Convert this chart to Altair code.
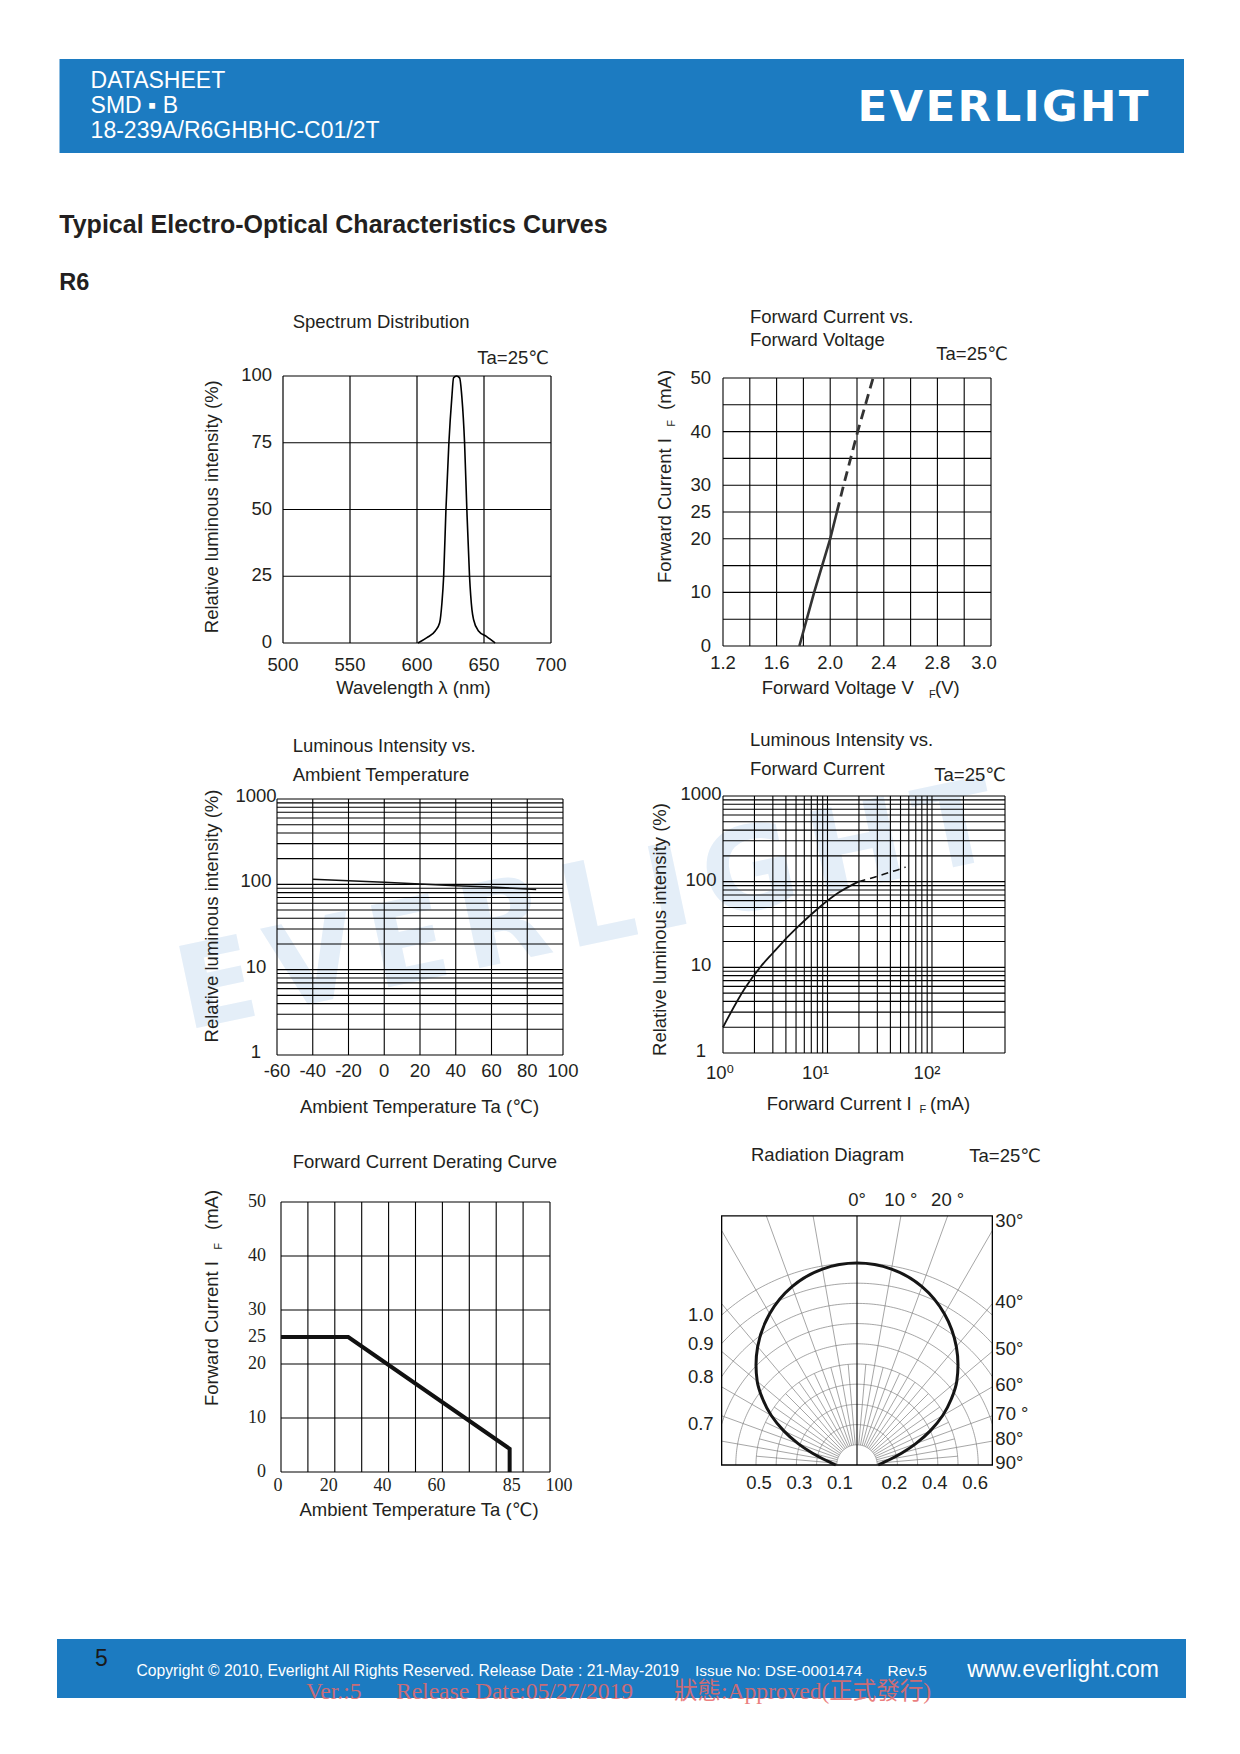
import math
import altair as alt
import pandas as pd

W, H = 1224, 1738
SANS = "Liberation Sans, Arial, DejaVu Sans, sans-serif"
SERIF = "Liberation Serif, Times New Roman, DejaVu Serif, serif"
LOGO = "DejaVu Sans, Liberation Sans, sans-serif"
INK = "#231f20"
BLUE = "#1c7bc1"
ONE = pd.DataFrame({"k": [0]})

# ---------------- values read from the page ----------------
# Spectrum distribution
SPEC_WL = [600.7, 607.4, 613.6, 616.9, 618.6, 619.9, 621.6, 623.8, 626.0, 627.3, 629.5,
           631.8, 633.5, 635.5, 637.2, 639.2, 641.0, 642.2, 645.9, 652.0, 658.3]
SPEC_REL = [0, 2.0, 4.5, 7.6, 15, 25, 50, 75, 92, 99.3, 100,
            99.3, 92, 75, 50, 25, 12.5, 8.8, 4.5, 2.4, 0]
SPEC_X_TICKS = [500, 550, 600, 650, 700]
SPEC_Y_TICKS = [0, 25, 50, 75, 100]

# Forward current vs forward voltage
FV_V_SOLID = [1.77, 1.88, 2.00, 2.05]
FV_I_SOLID = [0, 10, 20, 25]
FV_V_DASH = [2.05, 2.10, 2.205, 2.32]
FV_I_DASH = [25, 30, 40, 50]
FV_X_TICKS = [1.2, 1.6, 2.0, 2.4, 2.8]
FV_X_TEXT = ["1.2", "1.6", "2.0", "2.4", "2.8"]
FV_X_LAST_TICK = [3.2]
FV_X_LAST_TEXT = ["3.0"]
FV_Y_TICKS = [0, 10, 20, 25, 30, 40, 50]
FV_GRID_X = [1.2, 1.4, 1.6, 1.8, 2.0, 2.2, 2.4, 2.6, 2.8, 3.0, 3.2]
FV_GRID_Y = [0, 5, 10, 15, 20, 25, 30, 35, 40, 45, 50]

# Luminous intensity vs ambient temperature
TA_C = [-40, 0, 20, 40, 60, 85]
TA_REL = [115, 106, 101, 96, 93, 87]
TA_X_TICKS = [-60, -40, -20, 0, 20, 40, 60, 80, 100]
LOG_Y_TICKS = [1, 10, 100, 1000]
LOG_GRID_Y = [1, 2, 3, 4, 5, 6, 7, 8, 9, 10, 20, 30, 40, 50, 60, 70, 80, 90,
              100, 200, 300, 400, 500, 600, 700, 800, 900, 1000]

# Luminous intensity vs forward current
IF_MA = [1, 1.62, 2.31, 3.03, 3.77, 5.26, 7.86, 12.7, 19.8]
IF_REL = [2.0, 5.7, 10.3, 14.9, 20, 30, 47, 74, 100]
IF_MA_DASH = [19.8, 29.6, 38.9, 47.5, 56]
IF_REL_DASH = [100, 115, 128, 138, 148]
IF_X_TICKS = [1, 10, 100]
IF_X_TEXT = ["10⁰", "10¹", "10²"]
IF_GRID_X = [1, 2, 3, 4, 5, 6, 7, 8, 9, 10, 20, 30, 40, 50, 60, 70, 80, 90, 100, 200, 500]

# Forward current derating curve
DER_TA = [0, 25, 85, 85]
DER_IF = [25, 25, 4.3, 0]
DER_X_TICKS = [0, 20, 40, 60, 85, 100]
DER_Y_TICKS = [0, 10, 20, 25, 30, 40, 50]
DER_GRID_X = [0, 10, 20, 30, 40, 50, 60, 70, 80, 90, 100]
DER_GRID_Y = [0, 10, 20, 30, 40, 50]

# Radiation diagram
RAD_DEG = [-90, -85, -80, -75, -70, -65, -60, -55, -50, -40, -30, -20, -10, 0,
           10, 20, 30, 40, 50, 55, 60, 65, 70, 75, 80, 85, 90]
RAD_REL = [0.105, 0.13, 0.17, 0.23, 0.31, 0.40, 0.49, 0.57, 0.645, 0.765, 0.865, 0.94, 0.985, 1.0,
           0.985, 0.94, 0.865, 0.765, 0.645, 0.57, 0.49, 0.40, 0.31, 0.23, 0.17, 0.13, 0.105]
RAD_ARC_R = [0.1, 0.2, 0.3, 0.4, 0.5, 0.6, 0.7, 0.8, 0.9, 1.0]
RAD_SPOKE_DEG = [-80, -70, -60, -50, -40, -30, -20, -10, 10, 20, 30, 40, 50, 60, 70, 80]
RAD_FAN_DEG = [-85, -75, -65, -55, -45, -35, -25, -15, -5, 5, 15, 25, 35, 45, 55, 65, 75, 85]
RAD_LEFT_R = [1.0, 0.9, 0.8, 0.7]
RAD_BOTTOM_R = [0.5, 0.3, 0.1, 0.2, 0.4, 0.6]
RAD_BOTTOM_SIDE = [-1, -1, -1, 1, 1, 1]
RAD_ANG_TICKS = [0, 10, 20, 30, 40, 50, 60, 70, 80, 90]
RAD_ANG_TEXT = ["0°", "10 °", "20 °", "30°", "40°", "50°", "60°", "70 °", "80°", "90°"]
RAD_XMAX = 0.67
RAD_YMAX = 1.233

# advance widths (em) of DejaVu Sans Bold capitals, used to space the logotype
LOGO_ADV = {"E": 0.683, "V": 0.774, "R": 0.770, "L": 0.637, "I": 0.372,
            "G": 0.821, "H": 0.837, "T": 0.682}


# ---------------- helpers ----------------
def vrules(vals, lo, hi, xs, ys, width=1.1, color="black"):
    df = pd.DataFrame({"v": vals, "lo": [lo] * len(vals), "hi": [hi] * len(vals)})
    return alt.Chart(df).mark_rule(color=color, strokeWidth=width).encode(
        x=alt.X("v:Q", scale=xs, axis=None),
        y=alt.Y("lo:Q", scale=ys, axis=None),
        y2=alt.Y2("hi:Q"))


def hrules(vals, lo, hi, xs, ys, width=1.1, color="black"):
    df = pd.DataFrame({"v": vals, "lo": [lo] * len(vals), "hi": [hi] * len(vals)})
    return alt.Chart(df).mark_rule(color=color, strokeWidth=width).encode(
        y=alt.Y("v:Q", scale=ys, axis=None),
        x=alt.X("lo:Q", scale=xs, axis=None),
        x2=alt.X2("hi:Q"))


def xlabels(vals, texts, lo, xs, ys, dy, dx=0, font=SANS, size=18.5):
    df = pd.DataFrame({"v": vals, "s": texts, "lo": [lo] * len(vals)})
    return alt.Chart(df).mark_text(
        align="center", baseline="middle", dx=dx, dy=dy, fontSize=size, font=font, color=INK
    ).encode(x=alt.X("v:Q", scale=xs, axis=None),
             y=alt.Y("lo:Q", scale=ys, axis=None),
             text="s:N")


def ylabels(vals, texts, lo, xs, ys, dx, dy=0, align="right", font=SANS, size=18.5):
    df = pd.DataFrame({"v": vals, "s": texts, "lo": [lo] * len(vals)})
    return alt.Chart(df).mark_text(
        align=align, baseline="middle", dx=dx, dy=dy, fontSize=size, font=font, color=INK
    ).encode(y=alt.Y("v:Q", scale=ys, axis=None),
             x=alt.X("lo:Q", scale=xs, axis=None),
             text="s:N")


def txt(s, x, y, size=18.5, align="left", angle=0, color=INK, font=SANS,
        weight="normal", opacity=1.0, baseline="middle"):
    return alt.Chart(ONE).mark_text(
        text=s, align=align, baseline=baseline, angle=angle, fontSize=size,
        font=font, fontWeight=weight, color=color, opacity=opacity
    ).encode(x=alt.value(x), y=alt.value(y))


def box(x0, x1, y0, y1, color):
    return alt.Chart(ONE).mark_rect(color=color).encode(
        x=alt.value(x0), x2=alt.value(x1), y=alt.value(y0), y2=alt.value(y1))


def spaced_word(word, size, x0, y0, total, angle_deg, color):
    adv = [LOGO_ADV[c] * size for c in word]
    gap = (total - sum(adv)) / (len(word) - 1)
    a = math.radians(angle_deg)
    out, pos = [], 0.0
    for c, w in zip(word, adv):
        cx = pos + w / 2
        out.append(txt(c, x0 + cx * math.cos(a), y0 - cx * math.sin(a), size,
                       align="center", angle=(360 - angle_deg) % 360, color=color,
                       font=LOGO, weight="bold"))
        pos += w + gap
    return out


def strs(vals):
    return [str(v) for v in vals]


# ---------------- panel 1: spectrum ----------------
x1 = alt.Scale(domain=[500, 700], range=[275, 543])
y1 = alt.Scale(domain=[0, 100], range=[635, 368])
df_spec = pd.DataFrame({"wl": SPEC_WL, "rel": SPEC_REL})
p1 = alt.layer(
    vrules(SPEC_X_TICKS, 0, 100, x1, y1, 1.2),
    hrules(SPEC_Y_TICKS, 500, 700, x1, y1, 1.2),
    alt.Chart(df_spec).mark_line(color="black", strokeWidth=1.6, interpolate="monotone").encode(
        x=alt.X("wl:Q", scale=x1, axis=None),
        y=alt.Y("rel:Q", scale=y1, axis=None)),
    xlabels(SPEC_X_TICKS, strs(SPEC_X_TICKS), 0, x1, y1, dy=22),
    ylabels(SPEC_Y_TICKS, strs(SPEC_Y_TICKS), 500, x1, y1, dx=-11, dy=-1),
)

# ---------------- panel 2: IF vs VF ----------------
x2 = alt.Scale(domain=[1.2, 3.2], range=[715, 983])
y2 = alt.Scale(domain=[0, 50], range=[638, 370])
df_fv_s = pd.DataFrame({"v": FV_V_SOLID, "i": FV_I_SOLID})
df_fv_d = pd.DataFrame({"v": FV_V_DASH, "i": FV_I_DASH})
p2 = alt.layer(
    vrules(FV_GRID_X, 0, 50, x2, y2),
    hrules(FV_GRID_Y, 1.2, 3.2, x2, y2),
    alt.Chart(df_fv_s).mark_line(color="#333333", strokeWidth=2.6).encode(
        x=alt.X("v:Q", scale=x2, axis=None),
        y=alt.Y("i:Q", scale=y2, axis=None)),
    alt.Chart(df_fv_d).mark_line(color="#333333", strokeWidth=2.8, strokeDash=[10, 6]).encode(
        x=alt.X("v:Q", scale=x2, axis=None),
        y=alt.Y("i:Q", scale=y2, axis=None)),
    xlabels(FV_X_TICKS, FV_X_TEXT, 0, x2, y2, dy=17),
    xlabels(FV_X_LAST_TICK, FV_X_LAST_TEXT, 0, x2, y2, dy=17, dx=-7),
    ylabels(FV_Y_TICKS, strs(FV_Y_TICKS), 1.2, x2, y2, dx=-12),
)

# ---------------- panel 3: IV vs Ta ----------------
x3 = alt.Scale(domain=[-60, 100], range=[269, 555])
y3 = alt.Scale(type="log", domain=[1, 1000], range=[1047, 791])
df_ta = pd.DataFrame({"t": TA_C, "l": TA_REL})
p3 = alt.layer(
    vrules(TA_X_TICKS, 1, 1000, x3, y3),
    hrules(LOG_GRID_Y, -60, 100, x3, y3),
    alt.Chart(df_ta).mark_line(color="#111111", strokeWidth=1.5).encode(
        x=alt.X("t:Q", scale=x3, axis=None),
        y=alt.Y("l:Q", scale=y3, axis=None)),
    xlabels(TA_X_TICKS, strs(TA_X_TICKS), 1, x3, y3, dy=16),
    ylabels(LOG_Y_TICKS, strs(LOG_Y_TICKS), -60, x3, y3, dx=-21, dy=-3, align="center"),
)

# ---------------- panel 4: IV vs IF ----------------
x4 = alt.Scale(type="log", domain=[1, 500], range=[715, 997])
y4 = alt.Scale(type="log", domain=[1, 1000], range=[1045, 788])
df_if_s = pd.DataFrame({"i": IF_MA, "l": IF_REL})
df_if_d = pd.DataFrame({"i": IF_MA_DASH, "l": IF_REL_DASH})
p4 = alt.layer(
    vrules(IF_GRID_X, 1, 1000, x4, y4),
    hrules(LOG_GRID_Y, 1, 500, x4, y4),
    alt.Chart(df_if_s).mark_line(color="#111111", strokeWidth=1.8, interpolate="monotone").encode(
        x=alt.X("i:Q", scale=x4, axis=None),
        y=alt.Y("l:Q", scale=y4, axis=None)),
    alt.Chart(df_if_d).mark_line(color="#111111", strokeWidth=1.5, strokeDash=[7, 5],
                                 interpolate="monotone").encode(
        x=alt.X("i:Q", scale=x4, axis=None),
        y=alt.Y("l:Q", scale=y4, axis=None)),
    xlabels(IF_X_TICKS[:1], IF_X_TEXT[:1], 1, x4, y4, dy=20, dx=-3),
    xlabels(IF_X_TICKS[1:2], IF_X_TEXT[1:2], 1, x4, y4, dy=20, dx=-12),
    xlabels(IF_X_TICKS[2:], IF_X_TEXT[2:], 1, x4, y4, dy=20, dx=-5),
    ylabels(LOG_Y_TICKS, strs(LOG_Y_TICKS), 1, x4, y4, dx=-22, dy=-2, align="center"),
)

# ---------------- panel 5: derating ----------------
x5 = alt.Scale(domain=[0, 100], range=[273, 542])
y5 = alt.Scale(domain=[0, 50], range=[1464, 1194])
df_der = pd.DataFrame({"t": DER_TA, "i": DER_IF, "o": list(range(len(DER_TA)))})
p5 = alt.layer(
    vrules(DER_GRID_X, 0, 50, x5, y5),
    hrules(DER_GRID_Y, 0, 100, x5, y5),
    alt.Chart(df_der).mark_line(color="#111111", strokeWidth=4, strokeJoin="miter").encode(
        x=alt.X("t:Q", scale=x5, axis=None),
        y=alt.Y("i:Q", scale=y5, axis=None),
        order="o:Q"),
    xlabels(DER_X_TICKS[:1], strs(DER_X_TICKS[:1]), 0, x5, y5, dy=14, dx=-3, font=SERIF, size=18),
    xlabels(DER_X_TICKS[1:4], strs(DER_X_TICKS[1:4]), 0, x5, y5, dy=14, dx=-6, font=SERIF, size=18),
    xlabels(DER_X_TICKS[4:5], strs(DER_X_TICKS[4:5]), 0, x5, y5, dy=14, dx=2, font=SERIF, size=18),
    xlabels(DER_X_TICKS[5:], strs(DER_X_TICKS[5:]), 0, x5, y5, dy=14, dx=9, font=SERIF, size=18),
    ylabels(DER_Y_TICKS, strs(DER_Y_TICKS), 0, x5, y5, dx=-15, font=SERIF, size=18),
)

# ---------------- panel 6: radiation diagram ----------------
PX = 202.0
OX, OY = 849.0, 1457.0
x6 = alt.Scale(domain=[-RAD_XMAX, RAD_XMAX], range=[OX - RAD_XMAX * PX, OX + RAD_XMAX * PX])
y6 = alt.Scale(domain=[0, RAD_YMAX], range=[OY, OY - RAD_YMAX * PX])

arc_rows = []
for r in RAD_ARC_R:
    amax = 90.0 if r <= RAD_XMAX else math.degrees(math.asin(RAD_XMAX / r))
    angs = [-amax] + [a for a in range(-89, 90) if abs(a) < amax] + [amax]
    for a in angs:
        arc_rows.append({"r": r, "a": a})
df_arcs = pd.DataFrame(arc_rows)

spoke_rows = []
for a in RAD_SPOKE_DEG:
    t = math.radians(a)
    r1 = min(RAD_YMAX / math.cos(t), RAD_XMAX / abs(math.sin(t)))
    spoke_rows.append({"a": a, "r0": 0.1, "r1": r1})
for a in RAD_FAN_DEG:
    spoke_rows.append({"a": a, "r0": 0.1, "r1": 0.5})
df_spokes = pd.DataFrame(spoke_rows)

df_frame = pd.DataFrame({"xl": [-RAD_XMAX], "xr": [RAD_XMAX], "yb": [0], "yt": [RAD_YMAX]})
df_center = pd.DataFrame({"x": [0], "yb": [0], "yt": [RAD_YMAX]})
df_rad = pd.DataFrame({"deg": RAD_DEG, "rel": RAD_REL})
df_left = pd.DataFrame({"r": RAD_LEFT_R, "s": [f"{v:.1f}" for v in RAD_LEFT_R]})
df_bottom = pd.DataFrame({"r": RAD_BOTTOM_R, "side": RAD_BOTTOM_SIDE,
                          "s": [f"{v:.1f}" for v in RAD_BOTTOM_R]})
df_ang = pd.DataFrame({"a": RAD_ANG_TICKS, "s": RAD_ANG_TEXT})

GRAY = "#808080"
ang_base = alt.Chart(df_ang).transform_calculate(
    t="tan(datum.a * PI / 180)"
).transform_calculate(
    top=f"{RAD_YMAX} * datum.t <= {RAD_XMAX}"
).transform_calculate(
    px=f"datum.top ? {RAD_YMAX} * datum.t : {RAD_XMAX}",
    py=f"datum.top ? {RAD_YMAX} : {RAD_XMAX} / datum.t"
)


def ang_text(flt, **kw):
    return ang_base.transform_filter(flt).mark_text(
        baseline="middle", fontSize=18.5, font=SANS, color=INK, **kw).encode(
        x=alt.X("px:Q", scale=x6, axis=None), y=alt.Y("py:Q", scale=y6, axis=None), text="s:N")


p6 = alt.layer(
    alt.Chart(df_arcs).transform_calculate(
        x="datum.r * sin(datum.a * PI / 180)", y="datum.r * cos(datum.a * PI / 180)"
    ).mark_line(color=GRAY, strokeWidth=0.7).encode(
        x=alt.X("x:Q", scale=x6, axis=None), y=alt.Y("y:Q", scale=y6, axis=None),
        detail="r:N", order="a:Q"),
    alt.Chart(df_spokes).transform_calculate(
        x0="datum.r0 * sin(datum.a * PI / 180)", y0="datum.r0 * cos(datum.a * PI / 180)",
        x1="datum.r1 * sin(datum.a * PI / 180)", y1="datum.r1 * cos(datum.a * PI / 180)"
    ).mark_rule(color=GRAY, strokeWidth=0.7).encode(
        x=alt.X("x0:Q", scale=x6, axis=None), y=alt.Y("y0:Q", scale=y6, axis=None),
        x2="x1:Q", y2="y1:Q"),
    alt.Chart(df_center).mark_rule(color="black", strokeWidth=1.1).encode(
        x=alt.X("x:Q", scale=x6, axis=None), y=alt.Y("yb:Q", scale=y6, axis=None), y2="yt:Q"),
    alt.Chart(df_frame).mark_rect(fillOpacity=0, stroke="black", strokeWidth=1.3).encode(
        x=alt.X("xl:Q", scale=x6, axis=None), x2="xr:Q",
        y=alt.Y("yb:Q", scale=y6, axis=None), y2="yt:Q"),
    alt.Chart(df_rad).transform_calculate(
        x="datum.rel * sin(datum.deg * PI / 180)", y="datum.rel * cos(datum.deg * PI / 180)"
    ).mark_line(color="#151515", strokeWidth=3, interpolate="catmull-rom").encode(
        x=alt.X("x:Q", scale=x6, axis=None), y=alt.Y("y:Q", scale=y6, axis=None), order="deg:Q"),
    alt.Chart(df_left).transform_calculate(
        x=f"-{RAD_XMAX}", y=f"sqrt(datum.r * datum.r - {RAD_XMAX * RAD_XMAX})"
    ).mark_text(align="right", baseline="middle", dx=-8, fontSize=18.5, font=SANS, color=INK).encode(
        x=alt.X("x:Q", scale=x6, axis=None), y=alt.Y("y:Q", scale=y6, axis=None), text="s:N"),
    alt.Chart(df_bottom).transform_calculate(
        x="datum.side * (datum.r - 0.015)", y="0"
    ).mark_text(align="center", baseline="middle", dy=18, fontSize=18.5, font=SANS, color=INK).encode(
        x=alt.X("x:Q", scale=x6, axis=None), y=alt.Y("y:Q", scale=y6, axis=None), text="s:N"),
    ang_text("datum.top", align="center", dy=-16),
    ang_text("!datum.top && datum.a == 30", align="left", dx=3, dy=-10),
    ang_text("!datum.top && datum.a != 30", align="left", dx=3, dy=-2),
)

# ---------------- page decoration and texts ----------------
WHITE = "#ffffff"
deco_back = [
    box(51.5, 1176, 51, 145, BLUE),
    box(49, 1178, 1631, 1690, BLUE),
] + spaced_word("EVERLIGHT", 115, 171, 988, 834, 12, "#e4eef8")

texts = [
    # header
    txt("DATASHEET", 82.6, 72.5, 23, color=WHITE),
    txt("SMD ▪ B", 82.6, 98.2, 23, color=WHITE),
    txt("18-239A/R6GHBHC-C01/2T", 82.6, 122.8, 23, color=WHITE),
    txt("Typical Electro-Optical Characteristics Curves", 51.3, 216.7, 25, weight="bold"),
    txt("R6", 51.3, 274.9, 23.5, weight="bold"),
    # panel 1
    txt("Spectrum Distribution", 284.7, 313.7),
    txt("Ta=25℃", 541, 350, align="right"),
    txt("Wavelength  λ (nm)", 405.5, 680.3, align="center"),
    txt("Relative luminous intensity (%)", 203.7, 498.7, align="center", angle=270),
    # panel 2
    txt("Forward Current vs.", 742, 308.7),
    txt("Forward Voltage", 742, 332),
    txt("Ta=25℃", 1000, 346, align="right"),
    txt("Forward Voltage   V", 753.7, 680.3),
    txt("F", 921, 687, 11),
    txt("(V)", 927, 680.3),
    txt("Forward Current   I", 657, 575, angle=270),
    txt("F", 664, 415.5, 11, align="center", angle=270),
    txt("(mA)", 657, 402, angle=270),
    # panel 3
    txt("Luminous Intensity vs.", 284.7, 738),
    txt("Ambient Temperature", 284.7, 767),
    txt("Ambient Temperature Ta (℃)", 411.5, 1098.7, align="center"),
    txt("Relative luminous intensity (%)", 203.7, 908, align="center", angle=270),
    # panel 4
    txt("Luminous Intensity vs.", 742, 732),
    txt("Forward Current", 742, 761.3),
    txt("Ta=25℃", 998, 767, align="right"),
    txt("Forward Current  I", 758.7, 1096),
    txt("F", 911.5, 1102, 11),
    txt("(mA)", 922, 1096),
    txt("Relative luminous intensity (%)", 652, 921.5, align="center", angle=270),
    # panel 5
    txt("Forward Current Derating Curve", 284.7, 1153.7),
    txt("Ambient Temperature Ta (℃)", 411, 1502, align="center"),
    txt("Forward Current   I", 204, 1398, angle=270),
    txt("F", 211, 1238.5, 11, align="center", angle=270),
    txt("(mA)", 204, 1222, angle=270),
    # panel 6
    txt("Radiation Diagram", 743, 1147),
    txt("Ta=25℃", 1033, 1148, align="right"),
    # footer
    txt("5", 87, 1651, 23, color="#1a1a1a"),
    txt("Copyright © 2010, Everlight All Rights Reserved. Release Date : 21-May-2019",
        128.5, 1662.5, 15.7, color=WHITE),
    txt("Issue No: DSE-0001474", 687, 1662.5, 15.5, color=WHITE),
    txt("Rev.5", 879.5, 1662.5, 15.5, color=WHITE),
    txt("www.everlight.com", 1151, 1662, 23, align="right", color=WHITE),
    txt("Ver.:5", 298, 1683.7, 23.5, color="#e86a6a", font=SERIF, opacity=0.85),
    txt("Release Date:05/27/2019", 388, 1683.7, 23.5, color="#e86a6a", font=SERIF, opacity=0.85),
    txt("狀態:Approved(正式發行)", 666, 1683.7, 23.5, color="#e86a6a",
        font="Liberation Serif, Noto Sans CJK TC, serif", opacity=0.85),
] + spaced_word("EVERLIGHT", 43.5, 849.5, 100, 291, 0, WHITE)

chart = alt.layer(
    *deco_back, p1, p2, p3, p4, p5, p6, *texts
).resolve_scale(
    x="independent", y="independent"
).properties(
    width=W, height=H, padding=0, autosize=alt.AutoSizeParams(type="none")
).configure_view(strokeWidth=0)

chart.save("out.html", embed_options={"renderer": "svg", "actions": False})
